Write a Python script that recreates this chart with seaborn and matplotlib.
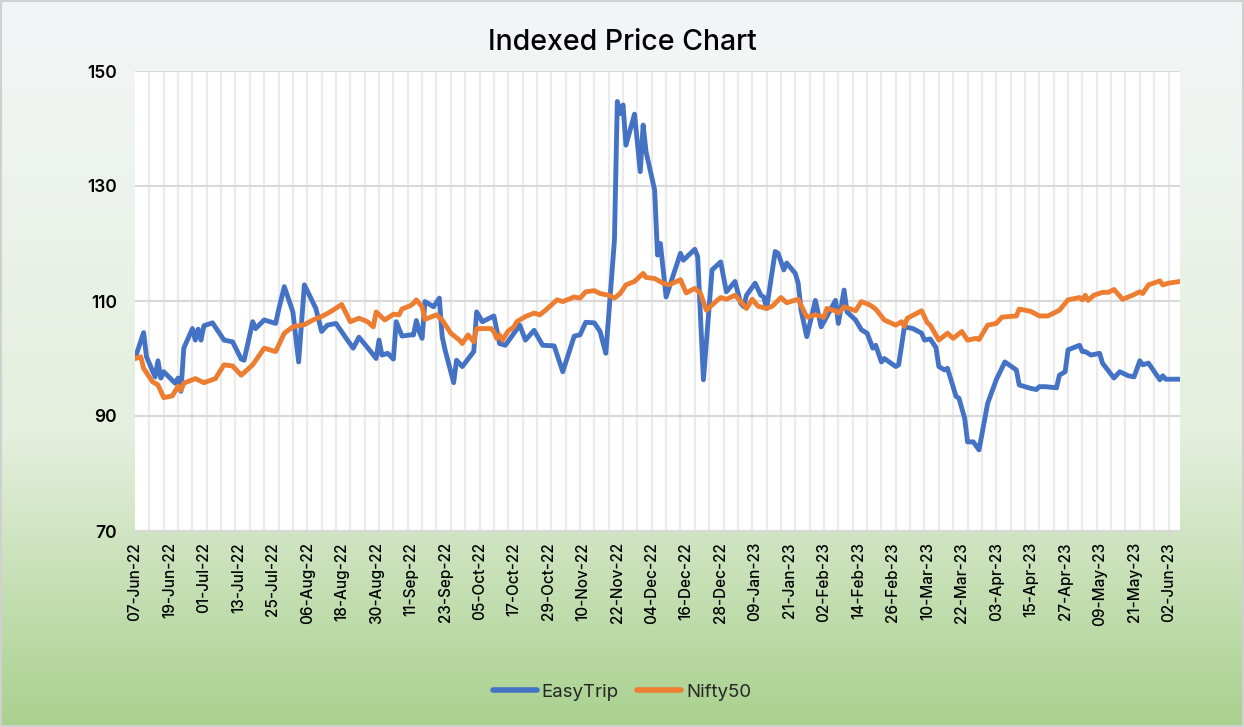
import matplotlib
matplotlib.use('Agg')
import matplotlib.pyplot as plt
import matplotlib.dates as mdates
from matplotlib.colors import LinearSegmentedColormap
from matplotlib.patches import Rectangle
import numpy as np
import pandas as pd
import seaborn as sns

start_date = pd.Timestamp('2022-06-07')
end_date = pd.Timestamp('2023-06-06')

# EasyTrip, days after 07-Jun-22 and indexed price
easy_days = [0, 3, 4, 7, 8, 9, 10, 14, 15, 16, 17, 20, 21, 22, 23, 24, 27, 31, 34, 37,
             38, 41, 42, 45, 49, 50, 52, 55, 57, 59, 63, 65, 67, 70, 74, 76, 78, 81, 84, 85,
             86, 88, 90, 91, 93, 96, 97, 98, 99, 100, 101, 104, 106, 107, 108, 111, 112, 114, 118, 119,
             121, 125, 127, 129, 134, 136, 139, 142, 146, 149, 153, 155, 157, 160, 162, 164, 167, 168, 169, 170,
             171, 174, 176, 177, 178, 181, 182, 183, 185, 190, 191, 195, 196, 198, 201, 204, 206, 209, 211, 212,
             213, 216, 218, 219, 220, 223, 224, 226, 227, 230, 231, 232, 234, 237, 239, 240, 244, 245, 247, 248,
             251, 253, 255, 257, 258, 260, 261, 265, 266, 268, 271, 274, 275, 277, 279, 280, 282, 283, 286, 287,
             289, 290, 292, 294, 297, 300, 303, 307, 308, 312, 314, 315, 317, 321, 322, 324, 325, 329, 330, 331,
             333, 336, 337, 341, 343, 346, 348, 350, 351, 353, 357, 358, 359, 364]
easy_vals = [100.0, 104.5, 100.3, 96.8, 99.6, 96.6, 97.7, 95.7, 96.6, 94.3, 101.8, 105.2, 103.2, 105.1, 103.2, 105.7, 106.2, 103.2, 102.9, 99.9,
             99.7, 106.4, 105.2, 106.7, 106.1, 108.4, 112.5, 108.1, 99.4, 112.8, 108.7, 104.7, 105.8, 106.1, 103.2, 101.8, 103.7, 101.9, 100.0, 103.2,
             100.6, 100.9, 99.9, 106.4, 103.9, 104.1, 104.1, 106.6, 104.7, 103.5, 109.9, 109.0, 110.5, 103.8, 101.5, 95.8, 99.7, 98.6, 101.2, 108.1,
             106.4, 107.4, 102.6, 102.3, 105.8, 103.2, 104.9, 102.3, 102.2, 97.7, 103.9, 104.1, 106.3, 106.2, 104.7, 100.9, 120.6, 144.7, 142.6, 144.1,
             137.1, 142.5, 132.5, 140.6, 136.0, 129.3, 118.0, 120.0, 110.7, 118.3, 117.1, 119.0, 117.7, 96.3, 115.4, 116.8, 111.6, 113.4, 109.6, 109.0,
             111.0, 113.1, 111.0, 110.7, 108.7, 118.6, 118.3, 115.4, 116.6, 114.8, 113.1, 108.4, 103.8, 110.1, 105.5, 106.4, 110.1, 106.1, 111.9, 108.1,
             106.7, 105.0, 104.4, 101.8, 102.3, 99.4, 100.0, 98.6, 98.9, 105.5, 105.2, 104.4, 103.2, 103.4, 101.9, 98.6, 98.0, 98.3, 93.4, 93.1,
             89.6, 85.5, 85.5, 84.1, 92.2, 96.3, 99.4, 98.0, 95.4, 94.8, 94.6, 95.1, 95.1, 94.9, 97.1, 97.7, 101.5, 102.3, 101.2, 101.2,
             100.6, 100.9, 99.2, 96.6, 97.7, 97.0, 96.8, 99.6, 98.9, 99.2, 96.3, 97.0, 96.4, 96.4]

# Nifty50
nifty_days = [0, 2, 3, 6, 8, 10, 13, 15, 16, 17, 21, 24, 28, 31, 34, 37, 41, 45, 49, 52,
              55, 59, 62, 65, 68, 72, 75, 78, 81, 83, 84, 87, 90, 92, 93, 96, 97, 98, 100, 101,
              105, 107, 110, 113, 114, 116, 118, 119, 124, 125, 126, 127, 128, 130, 132, 133, 136, 139, 141, 143,
              147, 149, 153, 155, 157, 160, 162, 165, 167, 169, 171, 172, 174, 177, 178, 181, 184, 186, 190, 192,
              195, 197, 199, 203, 204, 206, 209, 211, 213, 215, 217, 220, 222, 225, 227, 231, 234, 237, 240, 241,
              244, 245, 247, 251, 253, 256, 258, 261, 265, 267, 268, 269, 274, 276, 277, 280, 283, 285, 288, 290,
              293, 294, 297, 300, 302, 307, 308, 312, 315, 318, 322, 323, 325, 329, 330, 331, 332, 334, 337, 339,
              341, 344, 347, 350, 351, 353, 357, 358, 360, 364]
nifty_vals = [100.0, 100.3, 98.3, 96.0, 95.4, 93.2, 93.5, 95.2, 94.5, 95.7, 96.5, 95.8, 96.5, 98.9, 98.7, 97.1, 98.9, 101.8, 101.2, 104.4,
              105.5, 105.9, 106.7, 107.3, 108.1, 109.4, 106.4, 107.0, 106.4, 105.5, 108.1, 106.7, 107.7, 107.6, 108.6, 109.2, 109.6, 110.2, 109.0, 106.8,
              107.6, 106.7, 104.4, 103.2, 102.6, 104.1, 102.9, 105.2, 105.2, 104.7, 103.5, 104.1, 103.2, 104.8, 105.5, 106.4, 107.3, 107.9, 107.6, 108.4,
              110.2, 109.9, 110.7, 110.5, 111.6, 111.8, 111.3, 111.0, 110.5, 111.3, 112.8, 113.0, 113.4, 114.8, 114.1, 113.9, 113.1, 112.8, 113.7, 111.4,
              112.2, 111.3, 108.4, 110.2, 110.6, 110.3, 111.0, 109.9, 108.7, 110.3, 109.1, 108.7, 109.1, 110.6, 109.7, 110.3, 107.2, 107.6, 107.2, 108.7,
              108.3, 107.9, 109.0, 108.3, 109.9, 109.3, 108.6, 106.7, 105.8, 106.4, 105.6, 107.0, 108.3, 106.2, 105.8, 103.2, 104.4, 103.5, 104.7, 103.2,
              103.5, 103.3, 105.8, 106.1, 107.2, 107.4, 108.6, 108.2, 107.4, 107.4, 108.4, 109.0, 110.2, 110.6, 110.2, 111.0, 110.1, 111.0, 111.5, 111.5,
              112.0, 110.3, 110.9, 111.6, 111.3, 112.8, 113.5, 112.8, 113.1, 113.4]

series_names = ['EasyTrip', 'Nifty50']
series_colors = ['#4472C4', '#ED7D31']
y_ticks = [70, 90, 110, 130, 150]

df = pd.concat([
    pd.DataFrame({'date': start_date + pd.to_timedelta(easy_days, unit='D'),
                  'value': easy_vals, 'series': 'EasyTrip'}),
    pd.DataFrame({'date': start_date + pd.to_timedelta(nifty_days, unit='D'),
                  'value': nifty_vals, 'series': 'Nifty50'}),
])

sns.set_style('white')
plt.rcParams['font.family'] = ['Inter', 'DejaVu Sans']

fig = plt.figure(figsize=(12.44, 7.27), dpi=100)

# background gradient like the Excel chart area (light on top, green at the bottom)
bg = fig.add_axes([0, 0, 1, 1], zorder=-10)
cmap = LinearSegmentedColormap.from_list('bg', [(0.0, '#F3F6F8'), (0.6, '#E4EFDD'), (1.0, '#A9D18E')])
bg.imshow(np.linspace(0, 1, 256).reshape(-1, 1), aspect='auto', cmap=cmap,
          extent=[0, 1, 0, 1], origin='upper')
bg.set_xlim(0, 1)
bg.set_ylim(0, 1)
bg.axis('off')
fig.patches.append(Rectangle((0.001, 0.001), 0.998, 0.997, transform=fig.transFigure,
                             fill=False, edgecolor='#D0D0D0', linewidth=1.5))

ax = fig.add_axes([135 / 1244, 1 - 531 / 727, 1045 / 1244, 460 / 727])
ax.set_facecolor('white')

sns.lineplot(data=df, x='date', y='value', hue='series', hue_order=series_names,
             palette=series_colors, linewidth=3.5, ax=ax, estimator=None, sort=True)

# vertical grid every 5 days, labels every 12 days
ax.set_xlim(start_date, end_date)
grid_dates = pd.date_range(start_date, end_date, freq='5D')
for d in grid_dates[1:]:
    ax.axvline(d, color='#EBEBEB', linewidth=1.6, zorder=0)
ax.set_xticks(pd.date_range(start_date, end_date, freq='12D'))
ax.xaxis.set_major_formatter(mdates.DateFormatter('%d-%b-%y'))
ax.tick_params(axis='x', rotation=90, labelsize=11, colors='#D9D9D9', labelcolor='black',
               length=5, width=1.2, direction='out', bottom=True, pad=3)
for lbl in ax.get_xticklabels():
    lbl.set_fontweight('medium')

ax.set_ylim(70, 150)
ax.set_yticks(y_ticks)
ax.yaxis.grid(True, color='#D9D9D9', linewidth=1.5)
ax.set_axisbelow(True)
for lbl in ax.get_yticklabels():
    lbl.set_fontweight('semibold')
ax.tick_params(axis='y', labelsize=12.5, length=0, pad=13, labelcolor='black')

for side in ['left', 'right', 'top']:
    ax.spines[side].set_visible(False)
ax.spines['bottom'].set_color('#D9D9D9')
ax.spines['bottom'].set_linewidth(1.5)

ax.set_xlabel('')
ax.set_ylabel('')

fig.text(0.5, 1 - 42 / 727, 'Indexed Price Chart', ha='center', va='center',
         fontsize=20.5, fontweight='medium', color='black')

handles, labels = ax.get_legend_handles_labels()
ax.legend_.remove()
for h in handles:
    h.set_linewidth(4)
fig.legend(handles, labels, loc='center', bbox_to_anchor=(0.5, 1 - 692 / 727), ncol=2,
           frameon=False, fontsize=13.5, handlelength=2.35, handletextpad=0.25, columnspacing=1.0)

fig.savefig('out.png', dpi=100)
plt.close(fig)
